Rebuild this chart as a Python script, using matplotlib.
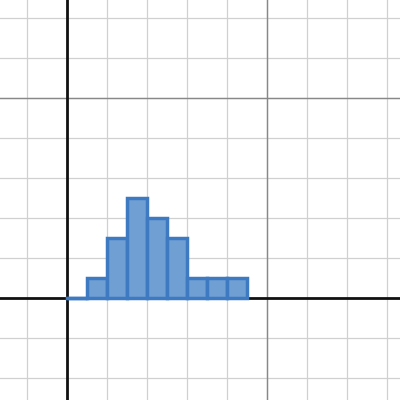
import matplotlib
matplotlib.use("Agg")
import matplotlib.pyplot as plt
import numpy as np

bin_lefts = [0.0, 0.5, 1.0, 1.5, 2.0, 2.5, 3.0, 3.5, 4.0]
heights = [0.0, 0.5, 1.5, 2.5, 2.0, 1.5, 0.5, 0.5, 0.5]
bin_width = 0.5

fig = plt.figure(figsize=(4, 4), dpi=100)
ax = fig.add_axes([0, 0, 1, 1])
ax.set_xlim(-1.675, 8.325)
ax.set_ylim(-2.55, 7.45)

for v in np.arange(-1, 9):
    ax.axvline(v, color="#d0d0d0", lw=0.9, zorder=0)
for v in np.arange(-2, 8):
    ax.axhline(v, color="#d0d0d0", lw=0.9, zorder=0)
for v in [5]:
    ax.axvline(v, color="#888888", lw=1.0, zorder=0)
for v in [5]:
    ax.axhline(v, color="#888888", lw=1.0, zorder=0)
ax.axhline(0, color="#111111", lw=2, zorder=1)
ax.axvline(0, color="#111111", lw=2, zorder=1)

ax.bar(bin_lefts, heights, width=bin_width, align="edge",
       color="#6f9fd3", edgecolor="#3d7ac2", linewidth=2.5, zorder=3)
ax.plot([0, 0.5], [0, 0], color="#3d7ac2", lw=2.5, zorder=4)

ax.set_xticks([]); ax.set_yticks([])
for s in ax.spines.values():
    s.set_visible(False)
fig.savefig("out.png", dpi=100)
